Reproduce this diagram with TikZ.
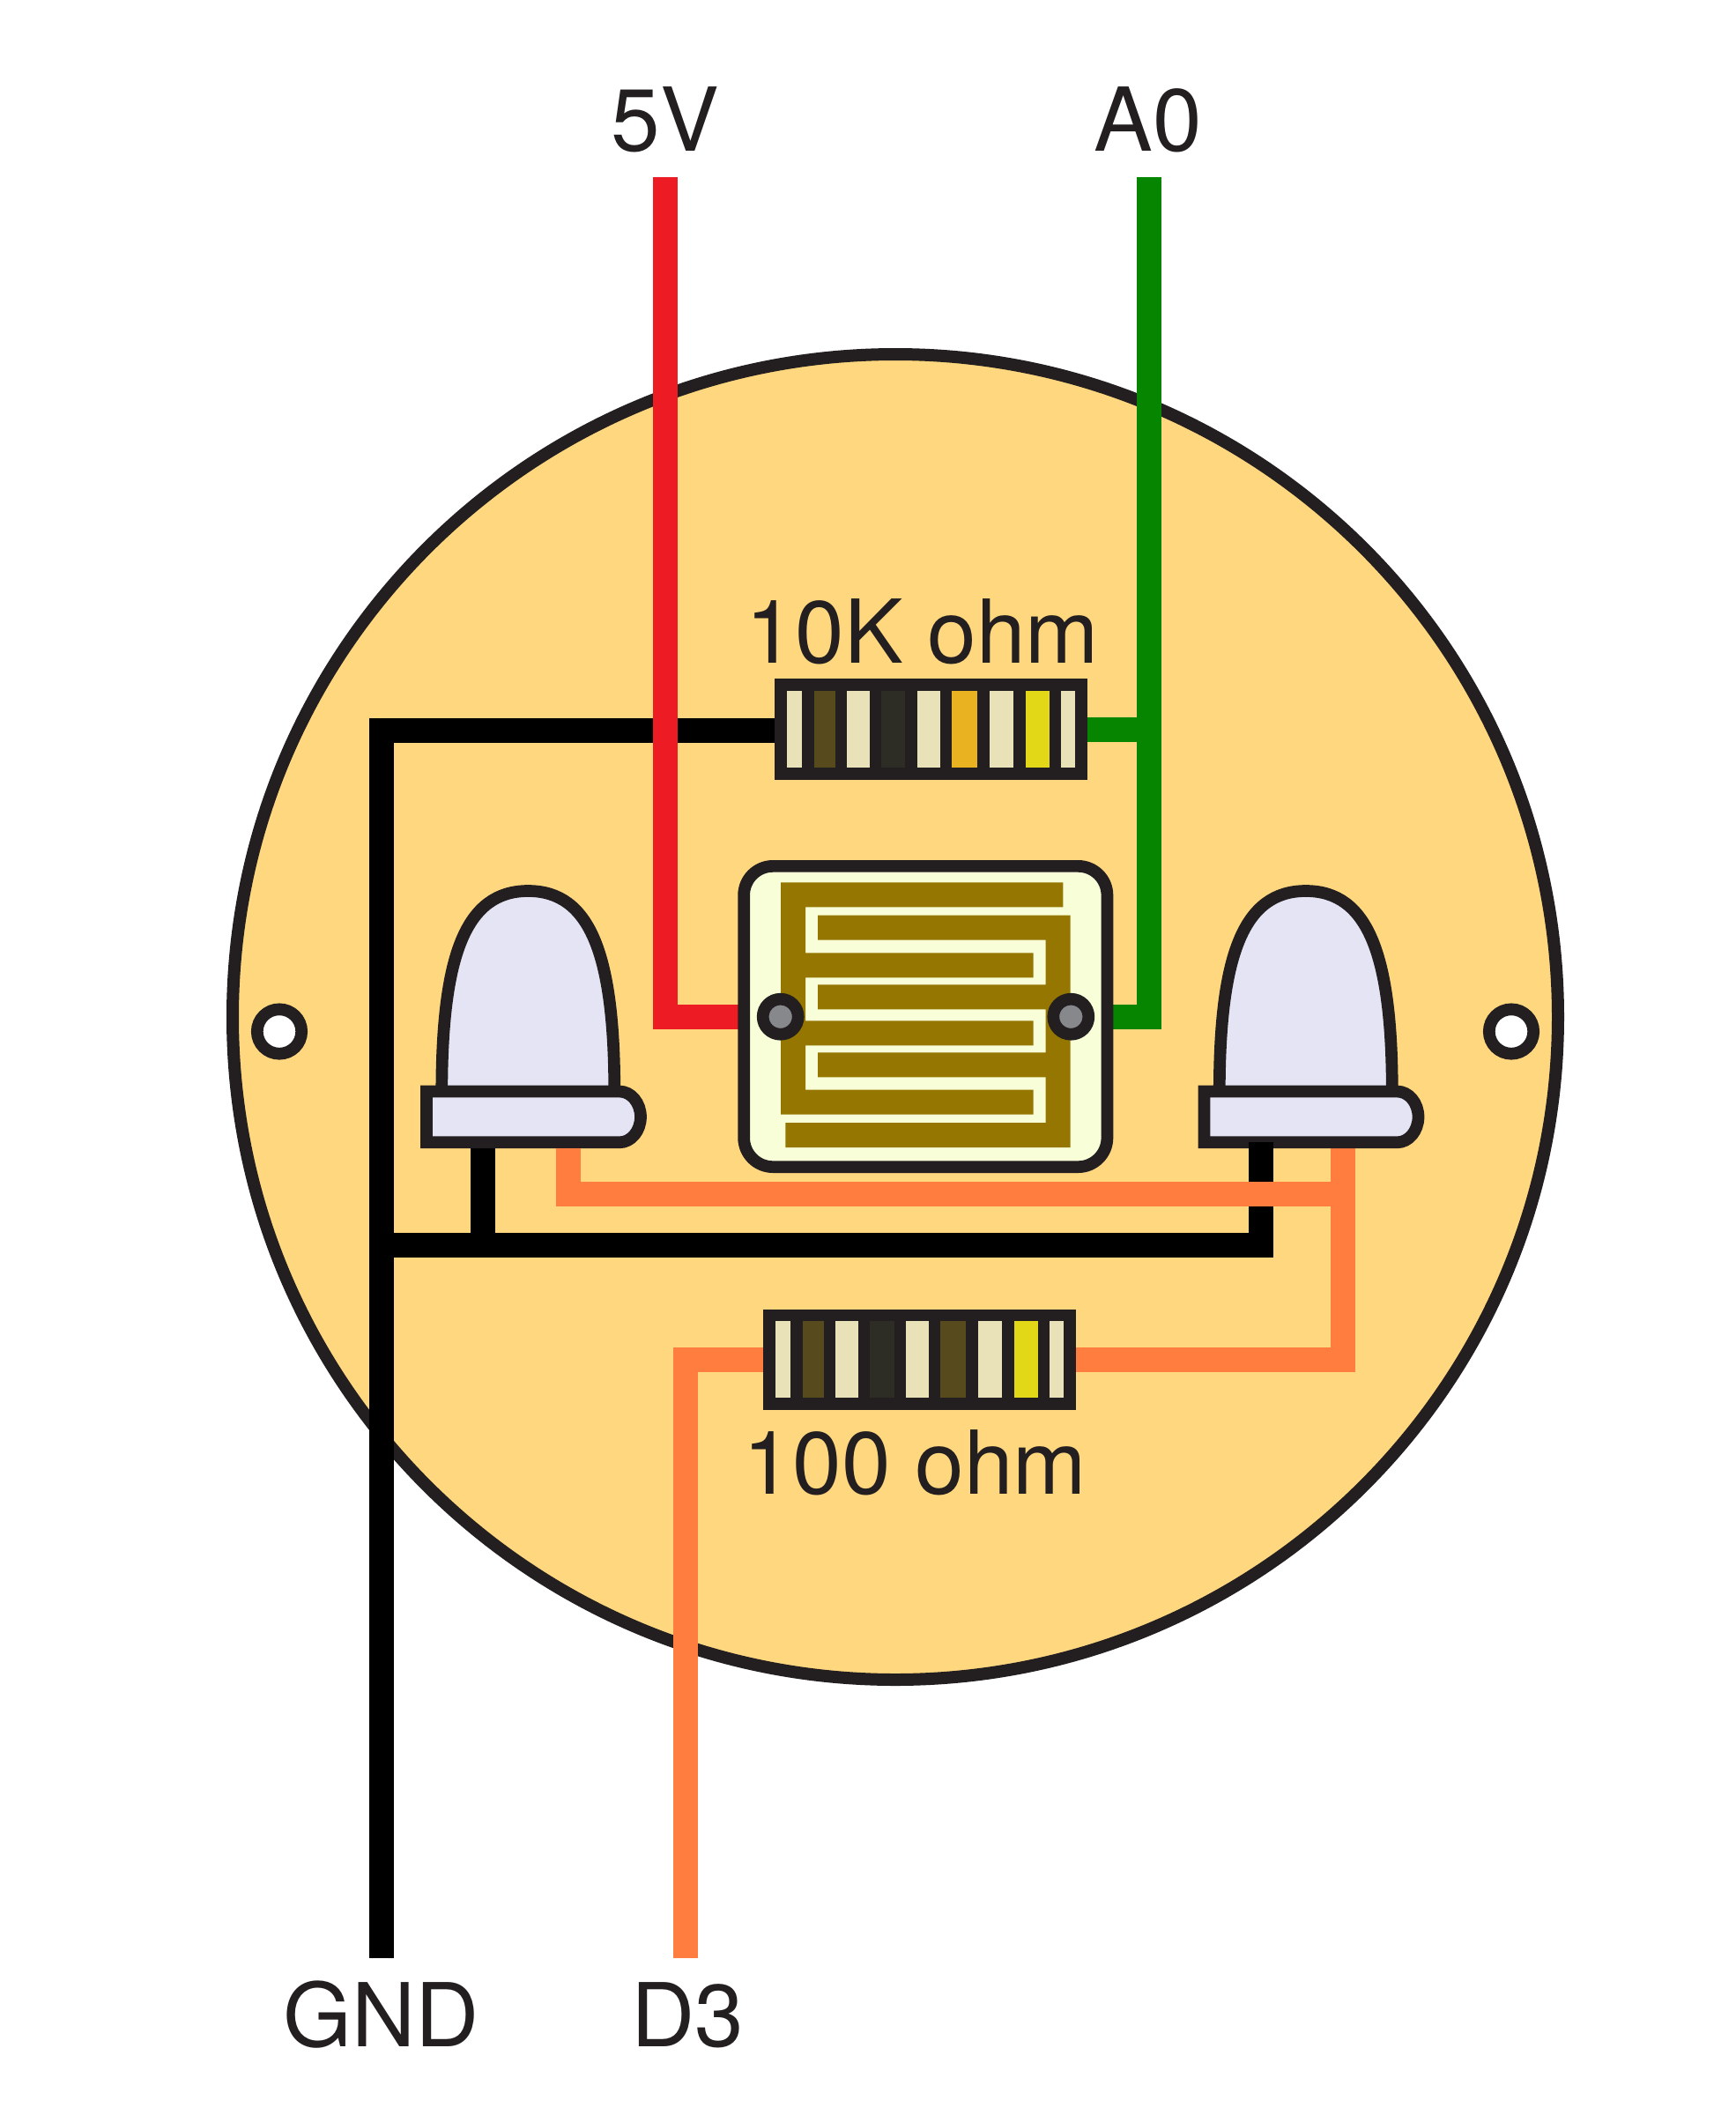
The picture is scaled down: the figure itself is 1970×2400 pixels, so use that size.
\documentclass[tikz,border=0pt]{standalone}
\usepackage{fontspec}
\setmainfont{TeX Gyre Heros}
\pgfdeclarelayer{board}
\pgfdeclarelayer{wires}
\pgfdeclarelayer{over}
\pgfsetlayers{board,wires,main,over}
\definecolor{ink}{HTML}{231F20}
\definecolor{boardcol}{HTML}{FFD77F}
\definecolor{redwire}{HTML}{ED1C24}
\definecolor{greenwire}{HTML}{068600}
\definecolor{orangewire}{HTML}{FF7D3E}
\definecolor{ledfill}{HTML}{E4E4F4}
\definecolor{sensorfill}{HTML}{F8FFD8}
\definecolor{gold}{HTML}{957600}
\definecolor{pingrey}{HTML}{87888C}
\definecolor{bandC}{HTML}{E9E1B7}
\definecolor{bandB}{HTML}{574B1E}
\definecolor{bandD}{HTML}{2E2D25}
\definecolor{bandO}{HTML}{E8B220}
\definecolor{bandY}{HTML}{E3D818}
\tikzset{
  wire/.style={line width=14pt,line cap=butt,line join=miter,miter limit=10},
  blackwire/.style={wire,draw=black},
  redw/.style={wire,draw=redwire},
  greenw/.style={wire,draw=greenwire},
  orangew/.style={wire,draw=orangewire},
  outline/.style={draw=ink,line width=6.85pt},
  resistor/.style={outline,rectangle,fill=ink,inner sep=0pt,outer sep=0pt,minimum width=170.35pt,minimum height=50.35pt},
  sensorbox/.style={outline,rectangle,fill=sensorfill,rounded corners=16.5pt,inner sep=0pt,outer sep=0pt,minimum width=206.15pt,minimum height=170.65pt},
  pinnode/.style={outline,circle,fill=pingrey,inner sep=0pt,outer sep=0pt,minimum size=20pt},
  holenode/.style={outline,circle,fill=white,inner sep=0pt,outer sep=0pt,minimum size=25.2pt},
  boardnode/.style={draw=ink,line width=7pt,circle,fill=boardcol,inner sep=0pt,outer sep=0pt,minimum size=752pt},
  txt/.style={text=ink,inner sep=0pt,outer sep=0pt,anchor=base,font=\fontsize{50}{60}\selectfont},
  ledpic/.pic={
    \path[outline,fill=ledfill,line join=miter]
      (501.3,1240) .. controls (501.3,1085) and (528,1011) .. (599.3,1011)
      .. controls (670.6,1011) and (697.3,1085) .. (697.3,1240) -- cycle;
    \path[outline,fill=ledfill,line join=miter]
      (484,1238.5) -- (703,1238.5)
      .. controls (716.2,1238.5) and (727,1251.5) .. (727,1267.4)
      .. controls (727,1283.3) and (716.2,1296.3) .. (703,1296.3)
      -- (484,1296.3) -- cycle;
  }
}
\begin{document}
\begin{tikzpicture}[x=0.5pt,y=-0.5pt]
\useasboundingbox (0,0) rectangle (1970,2400);

% board
\begin{pgfonlayer}{board}
\fill[white] (0,0) rectangle (1970,2400);
\node[boardnode] (board) at (1016,1154) {};
\node[holenode] (holeL) at (317,1170.5) {};
\node[holenode] (holeR) at (1715,1170.5) {};
\end{pgfonlayer}

% components
\node[resistor] (rten) at (1056.5,827.5) {};
\node[resistor] (rhun) at (1043.5,1542.7) {};
\node[sensorbox] (sensor) at (1050.3,1153.5) {};

\begin{scope}[shift={(800,950)},scale=0.33333]
\fill[gold] (258,154) -- (1219,154) -- (1219,238) -- (342,238) -- (342,394) -- (1118,394) -- (1118,478) -- (342,478) -- (342,625) -- (1118,625) -- (1118,709) -- (342,709) -- (342,860) -- (1118,860) -- (1118,944) -- (258,944) -- cycle;
\fill[gold] (384,266) -- (1244,266) -- (1244,1056) -- (274,1056) -- (274,972) -- (1160,972) -- (1160,817) -- (384,817) -- (384,733) -- (1160,733) -- (1160,586) -- (384,586) -- (384,502) -- (1160,502) -- (1160,350) -- (384,350) -- cycle;
\end{scope}
\node[pinnode] (pinL) at (885.7,1153.7) {};
\node[pinnode] (pinR) at (1215.3,1153.7) {};

\begin{scope}[shift={(820,740)},scale=0.33333]
\foreach \a/\b/\c in {219/270/bandC,311/383/bandB,424/500/bandC,540/622/bandD,663/740/bandC,780/868/bandO,908/990/bandC,1031/1113/bandY,1153/1200/bandC}
  \fill[\c] (\a,133) rectangle (\b,393);
\end{scope}
\begin{scope}[shift={(820,1470)},scale=0.33333]
\foreach \a/\b/\c in {180/231/bandC,272/344/bandB,385/462/bandC,502/584/bandD,624/701/bandC,741/829/bandB,869/951/bandC,992/1074/bandY,1114/1161/bandC}
  \fill[\c] (\a,88) rectangle (\b,348);
\end{scope}

\pic {ledpic};
\pic at (882.5,0) {ledpic};

% wire end points
\coordinate (vcc) at (754.5,201.3);
\coordinate (azero) at (1303.5,201.3);
\coordinate (gnd) at (432.5,2222.3);
\coordinate (dthree) at (778.4,2222.3);
\coordinate (ledLk) at (548,1300);
\coordinate (ledLa) at (645,1303);
\coordinate (ledRk) at (1431,1295.5);
\coordinate (ledRa) at (1523.7,1300);
\coordinate (gndbus) at (432.5,1413);
\coordinate (ledbus) at (1523.7,1354.5);

\begin{pgfonlayer}{wires}
\draw[blackwire] ([yshift=-0.75pt]rten.west) -| (gnd);
\draw[blackwire] (ledLk) -- (ledLk |- gndbus);
\draw[redw] (vcc) |- (sensor.west);
\draw[greenw] (sensor.east) -| (azero);
\draw[greenw] (rten.east) -- (rten.east -| azero);
\draw[orangew] (ledRa) |- (rhun.east);
\draw[orangew] (rhun.west) -| (dthree);
\end{pgfonlayer}
\begin{pgfonlayer}{over}
\draw[blackwire] (gndbus) -| (ledRk);
\draw[orangew] (ledLa) |- (ledbus);
\end{pgfonlayer}

% labels
\node[txt] (lvcc) at (754.6,171.7) {5V};
\node[txt] (lazero) at (1303,171.7) {A0};
\node[txt] (lgnd) at (433,2322.3) {GND};
\node[txt] (ldthree) at (780,2322.3) {D3};
\node[txt] (lten) at (1047,752.3) {10K ohm};
\node[txt] (lhun) at (1038.5,1695.3) {100 ohm};
\end{tikzpicture}
\end{document}
